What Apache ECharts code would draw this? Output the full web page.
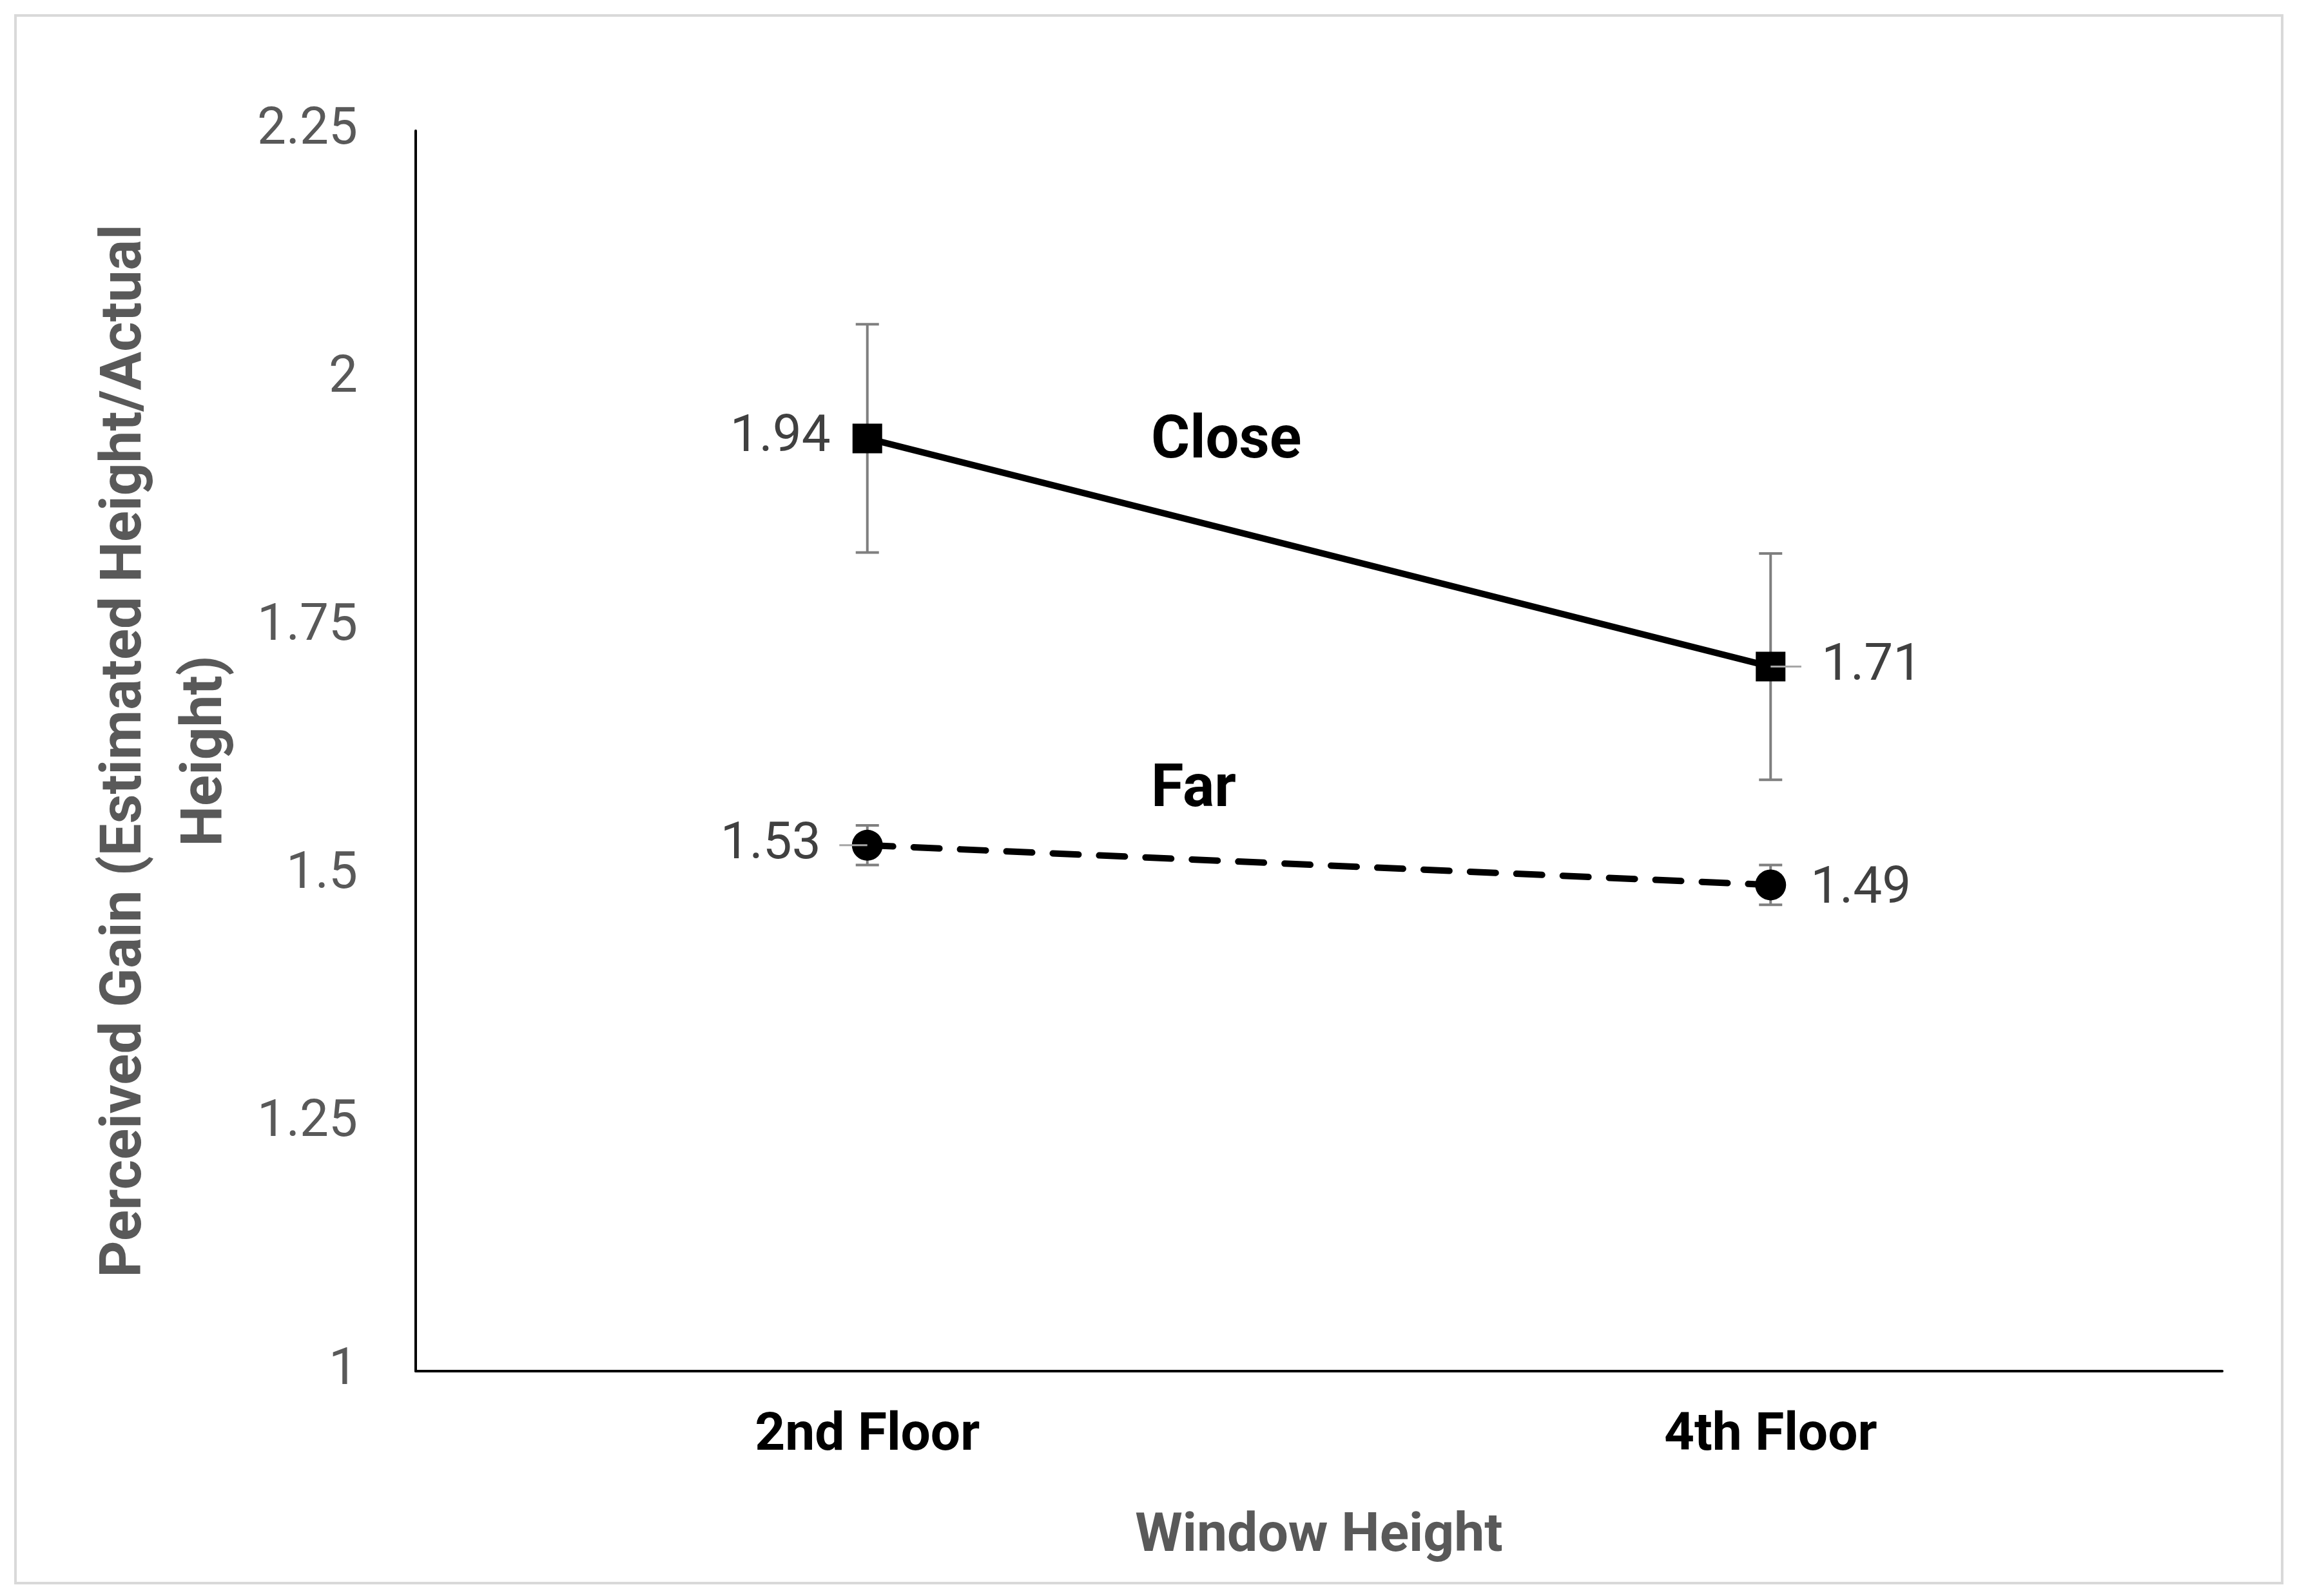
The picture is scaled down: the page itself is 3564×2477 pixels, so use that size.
<!DOCTYPE html>
<html>
<head>
<meta charset="utf-8">
<script src="https://cdn.jsdelivr.net/npm/echarts@6/dist/echarts.min.js"></script>
<style>
html,body{margin:0;padding:0;background:#fff;}
#chart{width:3564px;height:2477px;}
</style>
</head>
<body>
<div id="chart"></div>
<script>
// ---- data ----
var categories = ['2nd Floor', '4th Floor'];
var closeValues = [1.94, 1.71];
var farValues = [1.53, 1.49];
var closeErr = [0.115, 0.114];   // vertical error (±)
var farErr = [0.02, 0.02];
var closeXErr = [0, 0.034];      // horizontal error (category units, signed)
var farXErr = [-0.031, 0];
var yTicks = {min: 1, max: 2.25, interval: 0.25};
var seriesNames = ['Close', 'Far'];

var chart = echarts.init(document.getElementById('chart'), null, {renderer: 'canvas'});
var FONT = 'Roboto';

function yErrSeries(vals, errs) {
  return {
    type: 'custom',
    z: 1,
    silent: true,
    data: vals.map(function (v, i) { return [i, v, errs[i]]; }),
    renderItem: function (params, api) {
      var x = api.value(0), v = api.value(1), e = api.value(2);
      var top = api.coord([x, v + e]);
      var bot = api.coord([x, v - e]);
      var hw = 18;
      var st = {stroke: '#7f7f7f', lineWidth: 4};
      return {
        type: 'group',
        children: [
          {type: 'line', shape: {x1: top[0], y1: top[1], x2: bot[0], y2: bot[1]}, style: st},
          {type: 'line', shape: {x1: top[0] - hw, y1: top[1], x2: top[0] + hw, y2: top[1]}, style: st},
          {type: 'line', shape: {x1: bot[0] - hw, y1: bot[1], x2: bot[0] + hw, y2: bot[1]}, style: st}
        ]
      };
    }
  };
}
function xErrSeries(vals, xerrs) {
  return {
    type: 'custom',
    z: 5,
    silent: true,
    data: vals.map(function (v, i) { return [i, v, xerrs[i]]; }),
    renderItem: function (params, api) {
      var x = api.value(0), v = api.value(1), e = api.value(2);
      var c = api.coord([x, v]);
      var bw = api.size([1, 0])[0];
      return {
        type: 'line',
        shape: {x1: c[0], y1: c[1], x2: c[0] + e * bw, y2: c[1]},
        style: {stroke: '#a6a6a6', lineWidth: 3}
      };
    }
  };
}

var labelStyle = {fontFamily: FONT, fontSize: 80, color: '#404040'};

var option = {
  backgroundColor: '#ffffff',
  animation: false,
  grid: {left: 645, right: 116, top: 203, bottom: 349, containLabel: false},
  xAxis: {
    type: 'category',
    data: categories,
    boundaryGap: true,
    axisLine: {lineStyle: {color: '#000', width: 4}},
    axisTick: {show: false},
    axisLabel: {fontFamily: FONT, fontSize: 82, fontWeight: 'bold', color: '#000', margin: 60},
    name: 'Window Height',
    nameLocation: 'middle',
    nameGap: 216,
    nameTextStyle: {fontFamily: FONT, fontSize: 84, fontWeight: 'bold', color: '#595959'}
  },
  yAxis: {
    type: 'value',
    min: yTicks.min,
    max: yTicks.max,
    interval: yTicks.interval,
    axisLine: {show: true, lineStyle: {color: '#000', width: 4}},
    axisTick: {show: false},
    splitLine: {show: false},
    axisLabel: {fontFamily: FONT, fontSize: 80, color: '#595959', margin: 90},
    name: 'Perceived Gain (Estimated Height/Actual\nHeight)',
    nameLocation: 'middle',
    nameRotate: 90,
    nameGap: 262,
    nameTextStyle: {fontFamily: FONT, fontSize: 89, fontWeight: 'bold', color: '#595959', lineHeight: 125, align: 'center'}
  },
  series: [
    yErrSeries(closeValues, closeErr),
    yErrSeries(farValues, farErr),
    {
      name: seriesNames[0],
      type: 'line',
      z: 3,
      data: closeValues.map(function (v, i) {
        return {value: v, label: {position: i === 0 ? 'left' : 'right', distance: i === 0 ? 34 : 56}};
      }),
      symbol: 'rect',
      symbolSize: 46,
      itemStyle: {color: '#000'},
      lineStyle: {color: '#000', width: 10, type: 'solid'},
      label: Object.assign({show: true, formatter: function (p) { return p.value.toFixed(2); }}, labelStyle)
    },
    {
      name: seriesNames[1],
      type: 'line',
      z: 3,
      data: farValues.map(function (v, i) {
        return {value: v, label: {position: i === 0 ? 'left' : 'right', distance: i === 0 ? 48 : 38, offset: [0, i === 0 ? 0 : 8]}};
      }),
      symbol: 'circle',
      symbolSize: 48,
      itemStyle: {color: '#000'},
      lineStyle: {color: '#000', width: 10, type: [40, 32], cap: 'round'},
      label: Object.assign({show: true, formatter: function (p) { return p.value.toFixed(2); }}, labelStyle)
    },
    xErrSeries(closeValues, closeXErr),
    xErrSeries(farValues, farXErr)
  ],
  graphic: [
    {type: 'rect', shape: {x: 24, y: 24, width: 3517, height: 2433}, style: {fill: 'none', stroke: '#d9d9d9', lineWidth: 4}, z: -1, silent: true},
    {type: 'text', left: 1786, top: 679 - 38, style: {text: seriesNames[0], fontFamily: FONT, fontSize: 92, fontWeight: 'bold', fill: '#000'}},
    {type: 'text', left: 1786, top: 1225 - 43, style: {text: seriesNames[1], fontFamily: FONT, fontSize: 92, fontWeight: 'bold', fill: '#000'}}
  ]
};
chart.setOption(option);
</script>
</body>
</html>
